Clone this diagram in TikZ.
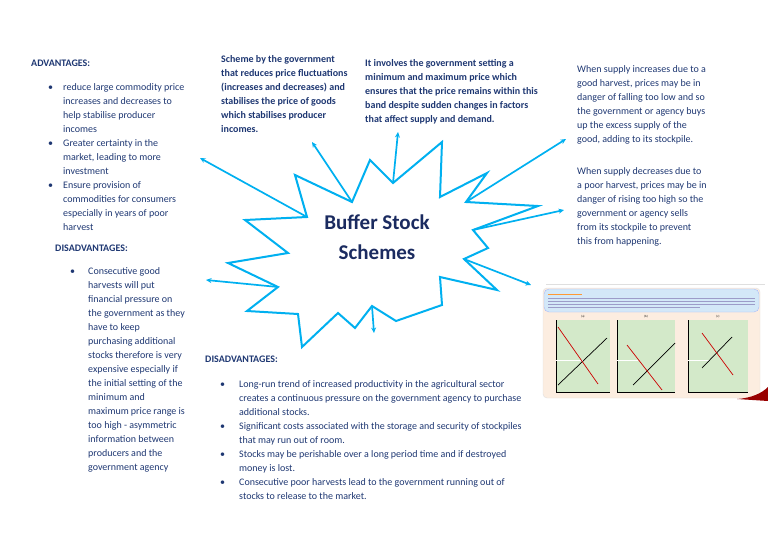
\documentclass[tikz,border=0pt]{standalone}
\usepackage{fontspec}
\setmainfont{Carlito}
\usetikzlibrary{arrows.meta, positioning}
\definecolor{starblue}{HTML}{00B0F0}
\definecolor{inkblue}{HTML}{1E3772}
\definecolor{titleblue}{HTML}{1B2B60}
\definecolor{figbeige}{HTML}{FCEDE0}
\definecolor{figcap}{HTML}{D3E8F8}
\definecolor{figgreen}{HTML}{D3E9C9}
\newcommand{\bul}[1]{\makebox[#1][l]{\textbullet}}
\newcommand{\gap}[1]{\makebox[#1]{}}
\tikzset{
    body/.style={anchor=north west, inner sep=0pt, align=left, text=inkblue, font=\fontsize{10}{14}\selectfont},
    boldbody/.style={body, font=\fontsize{10}{14}\selectfont\bfseries},
    heading/.style={body, font=\fontsize{10}{14}\selectfont\bfseries},
    title/.style={align=center, text=titleblue, inner sep=0pt, font=\fontsize{21}{30}\selectfont\bfseries},
    burst/.style={draw=starblue, line width=2pt, fill=white, line join=miter},
    arrow/.style={-{Stealth[length=5.5pt, width=5pt]}, draw=starblue, line width=1.7pt},
    panel/.style={fill=figgreen},
    supply/.style={black, line width=0.7pt},
    demand/.style={red!80!black, line width=0.7pt},
    priceline/.style={white, line width=0.8pt}
}

\begin{document}
\begin{tikzpicture}[x=1pt, y=-1pt]
    \useasboundingbox (0,0) rectangle (768,543);

    % --- Central burst ---
    \draw [burst] (352,202) -- (370,160) -- (393,183) -- (442,142) -- (440,197) -- (487,173)
        -- (466,202) -- (538,206) -- (473,230) -- (488,248) -- (464,259) -- (497,290)
        -- (440,277) -- (442,305) -- (396,321) -- (372,306) -- (355,328) -- (338,313)
        -- (302,347) -- (298,314) -- (247,311) -- (278,287) -- (228,263) -- (288,253)
        -- (245,220) -- (307,217) -- (295,175) -- cycle;
    \node (title) [title] at (377,237) {Buffer Stock\\Schemes};

    % --- Arrow roots on the burst ---
    \coordinate (sAdv) at (307,217);
    \coordinate (sDef) at (352,202);
    \coordinate (sHow) at (393,183);
    \coordinate (sUp) at (466,202);
    \coordinate (sDown) at (473,230);
    \coordinate (sFig) at (464,259);
    \coordinate (sDis) at (372,306);
    \coordinate (sCons) at (278,287);

    % --- Arrow ends ---
    \coordinate (tAdv) at (200,158);
    \coordinate (tDef) at (312,142);
    \coordinate (tHow) at (398,132);
    \coordinate (tUp) at (566,139);
    \coordinate (tDown) at (564,210);
    \coordinate (tFig) at (531,285);
    \coordinate (tDis) at (374,333);
    \coordinate (tCons) at (206,280);

    \draw [arrow] (sAdv) -- (tAdv);
    \draw [arrow] (sDef) -- (tDef);
    \draw [arrow] (sHow) -- (tHow);
    \draw [arrow] (sUp) -- (tUp);
    \draw [arrow] (sDown) -- (tDown);
    \draw [arrow] (sFig) -- (tFig);
    \draw [arrow] (sDis) -- (tDis);
    \draw [arrow] (sCons) -- (tCons);

    % --- Advantages ---
    \node (advhead) [heading] at (31,60) {ADVANTAGES:};
    \node (advlist) [body] at (48,83) {\bul{15pt}reduce large commodity price\\
        \gap{15pt}increases and decreases to\\
        \gap{15pt}help stabilise producer\\
        \gap{15pt}incomes\\
        \bul{15pt}Greater certainty in the\\
        \gap{15pt}market, leading to more\\
        \gap{15pt}investment\\
        \bul{15pt}Ensure provision of\\
        \gap{15pt}commodities for consumers\\
        \gap{15pt}especially in years of poor\\
        \gap{15pt}harvest};

    % --- Disadvantages (left) ---
    \node (conshead) [heading] at (55,245) {DISADVANTAGES:};
    \node (conslist) [body] at (70,267) {\bul{18pt}Consecutive good\\
        \gap{18pt}harvests will put\\
        \gap{18pt}financial pressure on\\
        \gap{18pt}the government as they\\
        \gap{18pt}have to keep\\
        \gap{18pt}purchasing additional\\
        \gap{18pt}stocks therefore is very\\
        \gap{18pt}expensive especially if\\
        \gap{18pt}the initial setting of the\\
        \gap{18pt}minimum and\\
        \gap{18pt}maximum price range is\\
        \gap{18pt}too high - asymmetric\\
        \gap{18pt}information between\\
        \gap{18pt}producers and the\\
        \gap{18pt}government agency};

    % --- Definition ---
    \node (def) [boldbody] at (221,55) {Scheme by the government\\
        that reduces price fluctuations\\
        (increases and decreases) and\\
        stabilises the price of goods\\
        which stabilises producer\\
        incomes.};
    \node (how) [boldbody] at (365,59) {It involves the government setting a\\
        minimum and maximum price which\\
        ensures that the price remains within this\\
        band despite sudden changes in factors\\
        that affect supply and demand.};

    % --- Supply changes ---
    \node (up) [body] at (577,65) {When supply increases due to a\\
        good harvest, prices may be in\\
        danger of falling too low and so\\
        the government or agency buys\\
        up the excess supply of the\\
        good, adding to its stockpile.};
    \node (down) [body] at (577,167) {When supply decreases due to\\
        a poor harvest, prices may be in\\
        danger of rising too high so the\\
        government or agency sells\\
        from its stockpile to prevent\\
        this from happening.};

    % --- Disadvantages (bottom) ---
    \node (dishead) [heading] at (205,356) {DISADVANTAGES:};
    \node (dislist) [body] at (220,380) {\bul{19pt}Long-run trend of increased productivity in the agricultural sector\\
        \gap{19pt}creates a continuous pressure on the government agency to purchase\\
        \gap{19pt}additional stocks.\\
        \bul{19pt}Significant costs associated with the storage and security of stockpiles\\
        \gap{19pt}that may run out of room.\\
        \bul{19pt}Stocks may be perishable over a long period time and if destroyed\\
        \gap{19pt}money is lost.\\
        \bul{19pt}Consecutive poor harvests lead to the government running out of\\
        \gap{19pt}stocks to release to the market.};

    % --- Textbook figure ---
    \draw [gray!25, line width=0.6pt] (546,284) -- (765,284);
    \draw [fill=figbeige, draw=gray!25, rounded corners=4pt] (543,288) rectangle (760,398);
    \draw [fill=figcap, draw=figcap!80!blue, rounded corners=5pt] (544,289) rectangle (759,312);
    \draw [orange!80, line width=0.9pt] (548,294) -- (582,294);
    \foreach \yy/\xe in {298/755, 301/755, 304/755, 307/700}
        \draw [blue!30!gray!60, line width=0.4pt] (548,\yy) -- (\xe,\yy);

    \fill [panel] (556,320) rectangle (610,392);
    \fill [panel] (617,320) rectangle (675,392);
    \fill [panel] (688,320) rectangle (748,392);
    \foreach \xl/\xr in {556/610, 617/675, 688/748}
        \draw [black, line width=0.4pt] (\xl,320) -- (\xl,392) -- (\xr,392);
    \node (pa) [font=\fontsize{3}{3}\selectfont, inner sep=0pt] at (583,317) {(a)};
    \node (pb) [font=\fontsize{3}{3}\selectfont, inner sep=0pt] at (646,317) {(b)};
    \node (pc) [font=\fontsize{3}{3}\selectfont, inner sep=0pt] at (718,317) {(c)};

    \draw [priceline] (556,360) -- (583,360);
    \draw [supply] (558,385) -- (607,338);
    \draw [demand] (558,327) -- (598,384);

    \draw [priceline] (617,360) -- (638,360);
    \draw [supply] (633,385) -- (675,343);
    \draw [demand] (627,345) -- (662,390);

    \draw [priceline] (688,360) -- (710,360);
    \draw [supply] (702,368) -- (732,337);
    \draw [demand] (702,333) -- (733,375);

    \fill [red!60!black] (737,399) .. controls (752,398) and (762,393) .. (768,387) -- (768,401) -- cycle;
\end{tikzpicture}
\end{document}
